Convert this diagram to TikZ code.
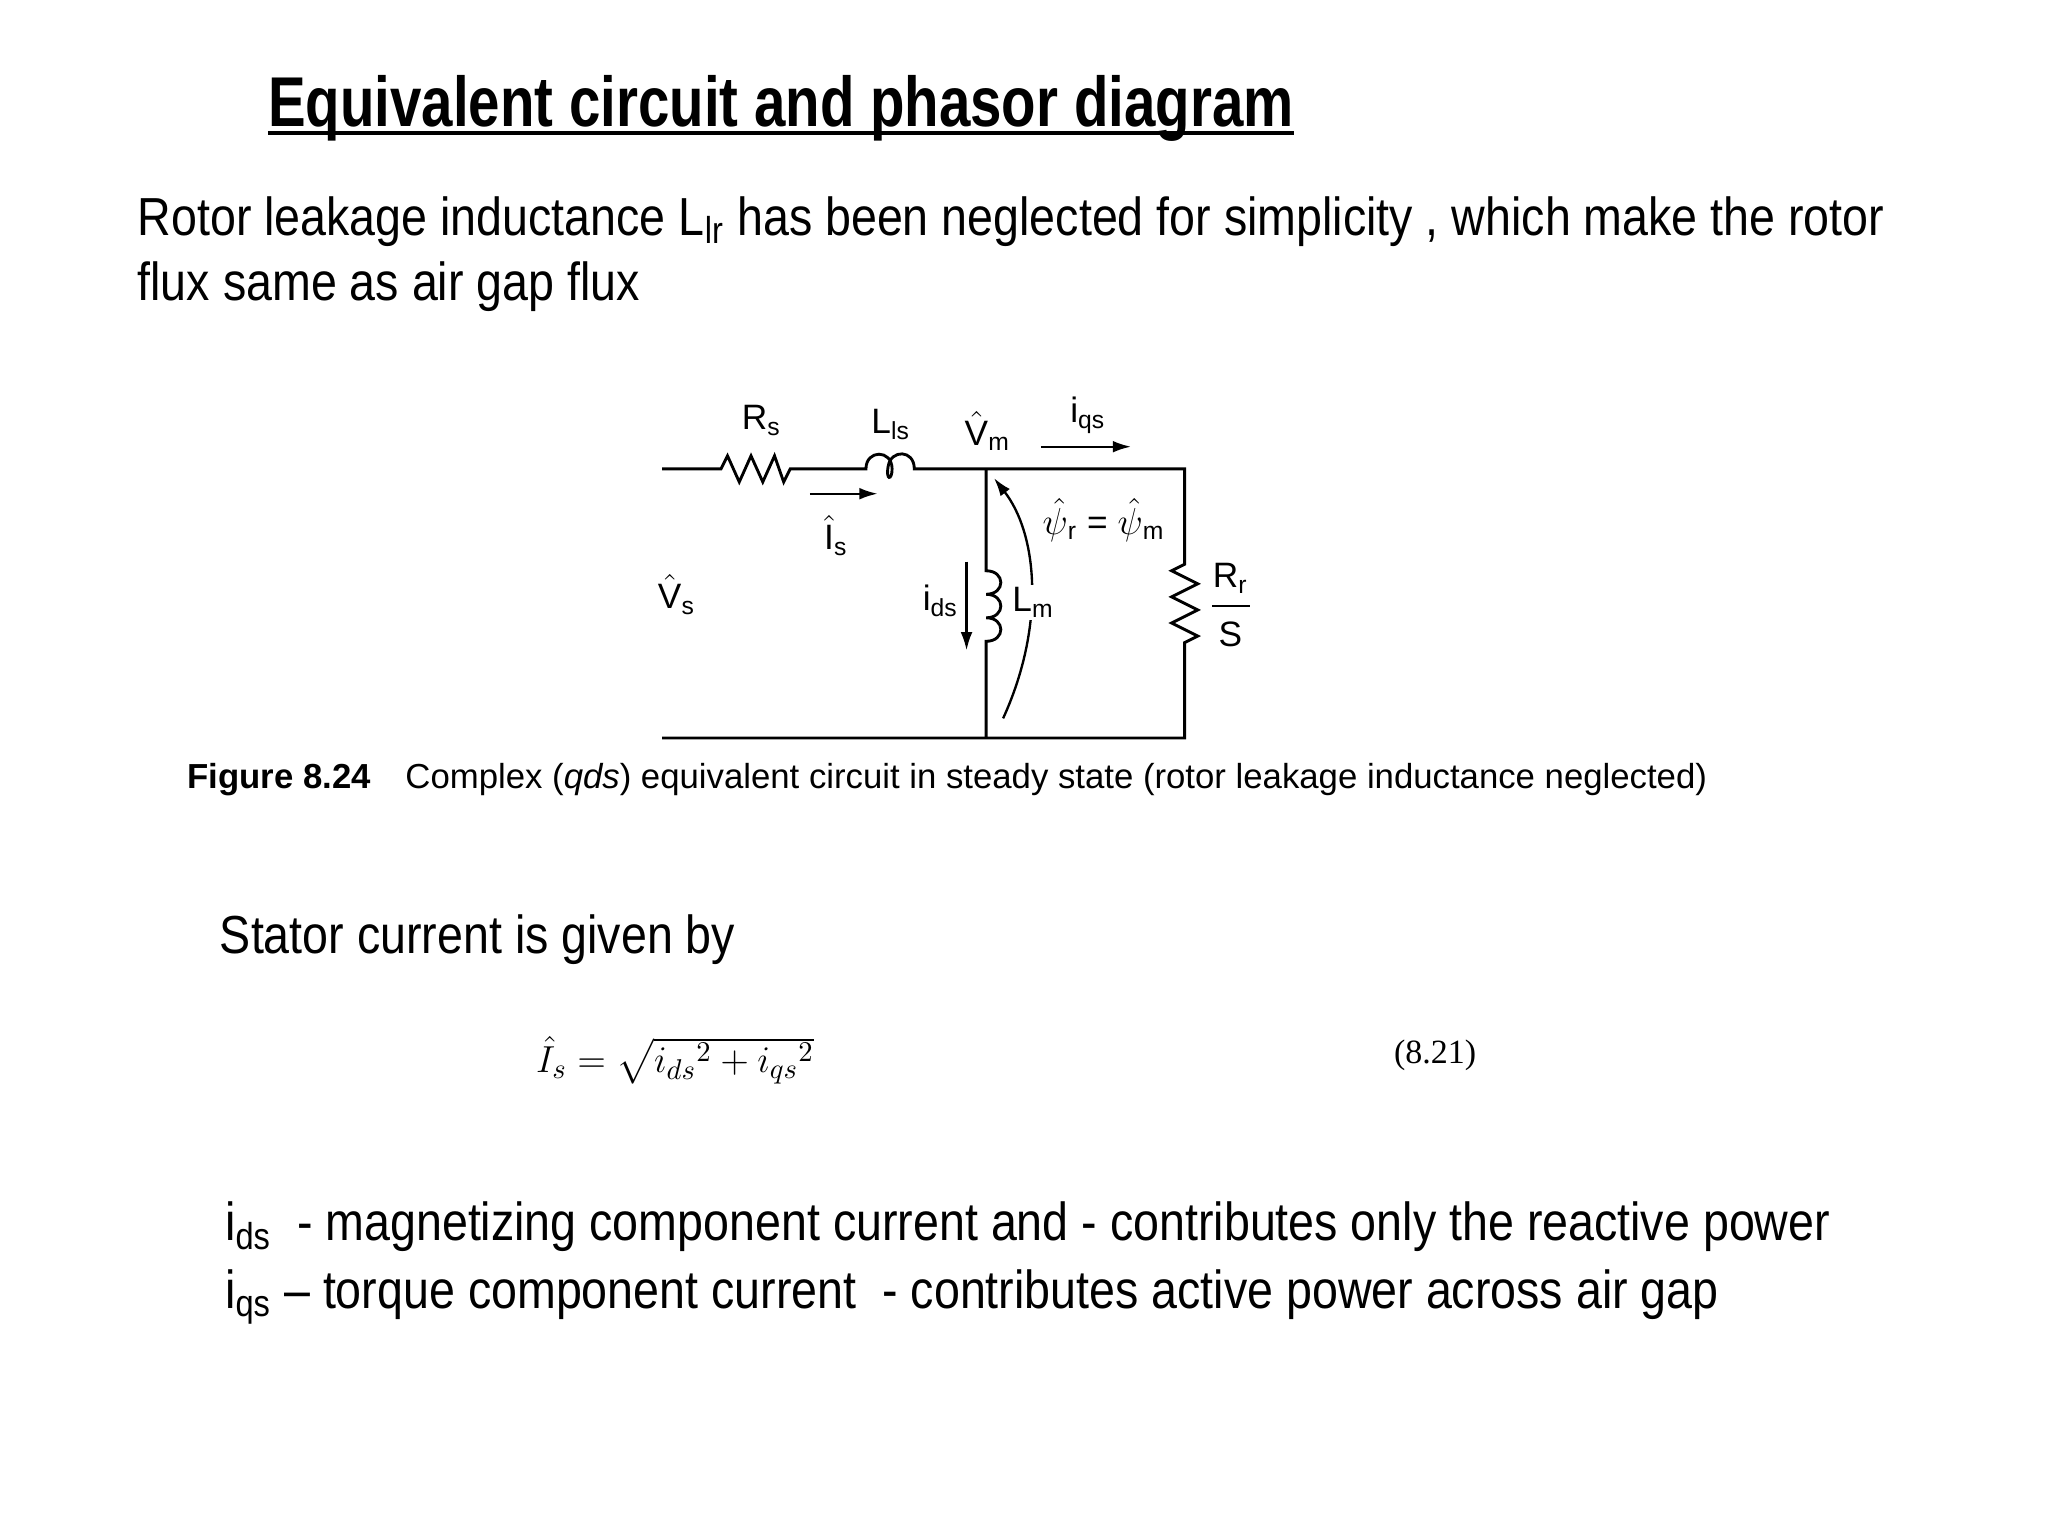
\documentclass[tikz,border=0pt]{standalone}
\usepackage{fontspec}
\usepackage{amsmath}
\setmainfont{Liberation Sans}
\newfontfamily\narrowf[FakeStretch=0.87]{Liberation Sans}
\newfontfamily\titlef[FakeStretch=0.80]{Liberation Sans}
\newfontfamily\serf{Liberation Serif}
\usetikzlibrary{arrows.meta}
\begin{document}
\begin{tikzpicture}[x=0.5pt,y=-0.5pt,
  wire/.style={line width=1.1pt},
  arr/.style={line width=0.9pt,-{Latex[length=7pt,width=4.5pt]}},
  para/.style={font=\narrowf\fontsize{20.5}{25}\selectfont,anchor=base west,inner sep=0pt},
  clab/.style={font=\fontsize{13.5}{16}\selectfont,inner sep=0pt}]
\useasboundingbox (0,0) rectangle (1568,1176);
\fill[white] (0,0) rectangle (1568,1176);
% title
\node[anchor=base west,inner sep=0pt,font=\titlef\bfseries\fontsize{27}{32}\selectfont] (title) at (205,97) {Equivalent circuit and phasor diagram};
\draw[line width=1.5pt] (title.base west) ++(0,5) -- ([yshift=-2.5pt]title.base east);
\node[para] (p1) at (105,180) {Rotor leakage inductance L\textsubscript{lr} has been neglected for simplicity , which make the rotor};
\node[para] (p2) at (105,230) {flux same as air gap flux};
% circuit
\coordinate (tl) at (507,359); \coordinate (bl) at (507,565);
\coordinate (j) at (755,359); \coordinate (jb) at (755,565);
\coordinate (tr) at (907,359); \coordinate (br) at (907,565);
\draw[wire] (tl) -- (552,359) -- (557,349) -- (566,369) -- (575,349) -- (584,369) -- (593,349) -- (600,369) -- (605,359) -- (663,359)
  .. controls (663,344) and (683,344) .. (683,359) .. controls (683,368) and (678,368) .. (680,357)
  .. controls (682,344) and (700,344) .. (700,359) -- (j) -- (tr) -- (907,432)
  -- (897,437) -- (917,447) -- (897,457) -- (917,467) -- (897,477) -- (917,487) -- (907,492) -- (br) -- (jb) -- (bl);
\draw[wire] (j) -- (755,437) .. controls (770,437) and (770,455) .. (755,455)
  .. controls (770,455) and (770,473) .. (755,473) .. controls (770,473) and (770,491) .. (755,491) -- (jb);
% arrows
\draw[arr] (620,378) -- (672,378);
\draw[arr] (797,342) -- (866,342);
\draw[arr] (740,430) -- (740,498);
\draw[arr] (768,550) .. controls (800,480) and (795,410) .. (761,366);
% labels
\node[clab] (rs) at (583,322) {R\textsubscript{s}};
\node[clab] (lls) at (682,325) {L\textsubscript{ls}};
\node[clab] (vm) at (756,330) {$\hat{\text{V}}$\textsubscript{m}};
\node[clab] (iqs) at (833,318) {i\textsubscript{qs}};
\node[clab] (is) at (640,410) {$\hat{\text{I}}$\textsubscript{s}};
\node[clab] (vs) at (518,455) {$\hat{\text{V}}$\textsubscript{s}};
\node[clab] (psi) at (845,398) {$\hat{\psi}$\textsubscript{r} = $\hat{\psi}$\textsubscript{m}};
\node[clab] (ids) at (720,460) {i\textsubscript{ds}};
\node[clab,fill=white,inner sep=1pt] (lm) at (791,461) {L\textsubscript{m}};
\node[clab] (rr) at (942,443) {R\textsubscript{r}};
\node[clab] (ss) at (942,486) {S};
\draw[line width=0.9pt] (928,464) -- (957,464);
% caption
\node[anchor=base west,inner sep=0pt,font=\fontsize{13.3}{16}\selectfont] (cap) at (143,604) {\textbf{Figure 8.24}\quad Complex (\textit{qds}) equivalent circuit in steady state (rotor leakage inductance neglected)};
% lower text
\node[para] (p3) at (168,730) {Stator current is given by};
\node[anchor=west,inner sep=0pt,font=\serf\fontsize{15}{18}\selectfont] (eq) at (410,812) {$\hat{I}_s = \sqrt{i_{ds}{}^2 + i_{qs}{}^2}$};
\node[anchor=west,inner sep=0pt,font=\serf\fontsize{13}{16}\selectfont] (eqn) at (1067,808) {(8.21)};
\node[para] (p4) at (172,950) {i\textsubscript{ds}\ \ - magnetizing component current and - contributes only the reactive power};
\node[para] (p5) at (172,1002) {i\textsubscript{qs} – torque component current\ \ - contributes active power across air gap};
\end{tikzpicture}
\end{document}
